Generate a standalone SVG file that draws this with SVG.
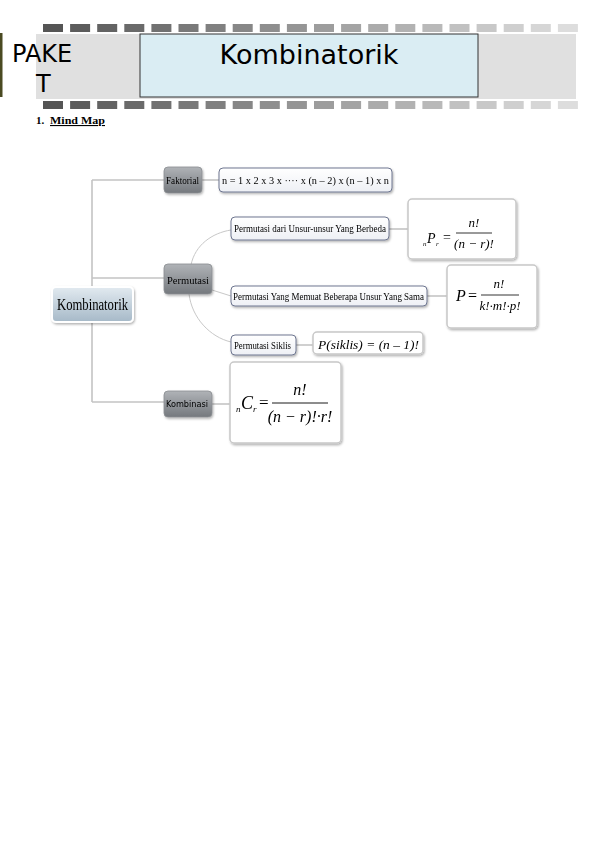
<svg xmlns="http://www.w3.org/2000/svg" width="595" height="842" viewBox="0 0 595 842">
<style>
.conn{fill:none;stroke:#c4c4c4;stroke-width:1.6}
.curve{fill:none;stroke:#c8c8c8;stroke-width:1}
.branch{fill:url(#gBranch);stroke:#8a8e92;stroke-width:0.8}
.sub{fill:url(#gSub);stroke:#6e7690;stroke-width:1}
.fbox{fill:#ffffff;stroke:#c8c8c8;stroke-width:1.5}
.bt{font-family:"Liberation Serif",serif;font-size:10.5px;fill:#000}
.st{font-family:"Liberation Serif",serif;font-size:9.5px;fill:#000}
.math{font-family:"Liberation Serif",serif;font-style:italic;fill:#000}
.mathr{font-family:"Liberation Serif",serif;fill:#000}
</style>
<defs>
<linearGradient id="gBranch" x1="0" y1="0" x2="0" y2="1">
<stop offset="0" stop-color="#b0b3b7"/>
<stop offset="1" stop-color="#75797e"/>
</linearGradient>
<linearGradient id="gMain" x1="0" y1="0" x2="0" y2="1">
<stop offset="0" stop-color="#e2eaf0"/>
<stop offset="1" stop-color="#a6b9c8"/>
</linearGradient>
<linearGradient id="gSub" x1="0" y1="0" x2="0" y2="1">
<stop offset="0" stop-color="#ffffff"/>
<stop offset="1" stop-color="#eef0f5"/>
</linearGradient>
<filter id="sh" x="-20%" y="-20%" width="140%" height="150%">
<feDropShadow dx="1" dy="1.5" stdDeviation="1.2" flood-color="#000" flood-opacity="0.3"/>
</filter>
</defs>

<g id="header">
<rect x="0" y="33" width="2.5" height="64" fill="#4a4a22"/>
<rect x="36" y="34" width="540" height="65" fill="#e0e0e0"/>
<g id="squares-top">
<rect x="43" y="24" width="20" height="8" fill="#555555"/>
<rect x="70.1" y="24" width="20" height="8" fill="#5c5c5c"/>
<rect x="97.2" y="24" width="20" height="8" fill="#636363"/>
<rect x="124.3" y="24" width="20" height="8" fill="#6a6a6a"/>
<rect x="151.4" y="24" width="20" height="8" fill="#717171"/>
<rect x="178.5" y="24" width="20" height="8" fill="#797979"/>
<rect x="205.6" y="24" width="20" height="8" fill="#808080"/>
<rect x="232.7" y="24" width="20" height="8" fill="#878787"/>
<rect x="259.8" y="24" width="20" height="8" fill="#8e8e8e"/>
<rect x="286.9" y="24" width="20" height="8" fill="#959595"/>
<rect x="314" y="24" width="20" height="8" fill="#9d9d9d"/>
<rect x="341.1" y="24" width="20" height="8" fill="#a4a4a4"/>
<rect x="368.2" y="24" width="20" height="8" fill="#ababab"/>
<rect x="395.3" y="24" width="20" height="8" fill="#b2b2b2"/>
<rect x="422.4" y="24" width="20" height="8" fill="#b9b9b9"/>
<rect x="449.5" y="24" width="20" height="8" fill="#c1c1c1"/>
<rect x="476.6" y="24" width="20" height="8" fill="#c8c8c8"/>
<rect x="503.7" y="24" width="20" height="8" fill="#cfcfcf"/>
<rect x="530.8" y="24" width="20" height="8" fill="#d6d6d6"/>
<rect x="557.9" y="24" width="20" height="8" fill="#dddddd"/>
</g>
<g id="squares-bottom">
<rect x="43" y="101" width="20" height="8" fill="#555555"/>
<rect x="70.1" y="101" width="20" height="8" fill="#5c5c5c"/>
<rect x="97.2" y="101" width="20" height="8" fill="#636363"/>
<rect x="124.3" y="101" width="20" height="8" fill="#6a6a6a"/>
<rect x="151.4" y="101" width="20" height="8" fill="#717171"/>
<rect x="178.5" y="101" width="20" height="8" fill="#797979"/>
<rect x="205.6" y="101" width="20" height="8" fill="#808080"/>
<rect x="232.7" y="101" width="20" height="8" fill="#878787"/>
<rect x="259.8" y="101" width="20" height="8" fill="#8e8e8e"/>
<rect x="286.9" y="101" width="20" height="8" fill="#959595"/>
<rect x="314" y="101" width="20" height="8" fill="#9d9d9d"/>
<rect x="341.1" y="101" width="20" height="8" fill="#a4a4a4"/>
<rect x="368.2" y="101" width="20" height="8" fill="#ababab"/>
<rect x="395.3" y="101" width="20" height="8" fill="#b2b2b2"/>
<rect x="422.4" y="101" width="20" height="8" fill="#b9b9b9"/>
<rect x="449.5" y="101" width="20" height="8" fill="#c1c1c1"/>
<rect x="476.6" y="101" width="20" height="8" fill="#c8c8c8"/>
<rect x="503.7" y="101" width="20" height="8" fill="#cfcfcf"/>
<rect x="530.8" y="101" width="20" height="8" fill="#d6d6d6"/>
<rect x="557.9" y="101" width="20" height="8" fill="#dddddd"/>
</g>
<text x="12" y="62" font-family="DejaVu Sans, sans-serif" font-size="24" fill="#000">PAKE</text>
<text x="36" y="92" font-family="DejaVu Sans, sans-serif" font-size="24" fill="#000">T</text>
<rect x="140" y="34" width="338" height="63" fill="#daedf3" stroke="#333" stroke-width="1"/>
<text x="309" y="64" text-anchor="middle" font-family="DejaVu Sans, sans-serif" font-size="27" fill="#000">Kombinatorik</text>
</g>

<g id="heading">
<text x="36" y="124" font-family="Liberation Serif, serif" font-size="11" font-weight="bold" fill="#000">1.</text>
<text x="50" y="124" font-family="Liberation Serif, serif" font-size="11" font-weight="bold" fill="#000" text-decoration="underline" textLength="55" lengthAdjust="spacingAndGlyphs">Mind Map</text>
</g>

<g id="connectors">
<path class="conn" d="M92 180 V402 M92 180 H164 M92 278 H164 M92 402 H164"/>
<path class="conn" d="M202 180 H219"/>
<path class="curve" d="M191 265 C195 245 212 233 231 230"/>
<path class="curve" d="M212 290 L231 296"/>
<path class="curve" d="M189 294 C192 318 210 337 231 342"/>
<path class="conn" d="M389 229 H408"/>
<path class="conn" d="M427 296 H447"/>
<path class="conn" d="M296 345 H313"/>
<path class="conn" d="M212 404 H230"/>
</g>

<g id="node-main" filter="url(#sh)">
<rect x="52" y="287" width="81" height="35" rx="4" fill="url(#gMain)" stroke="#ffffff" stroke-width="2"/>
<text x="57" y="310" font-family="Liberation Serif, serif" font-size="16" textLength="71" lengthAdjust="spacingAndGlyphs" fill="#000">Kombinatorik</text>
</g>

<g id="node-faktorial" filter="url(#sh)">
<rect class="branch" x="164" y="167" width="38" height="26" rx="4"/>
<text class="bt" x="166" y="184" textLength="33" lengthAdjust="spacingAndGlyphs">Faktorial</text>
</g>

<g id="node-faktorial-formula" filter="url(#sh)">
<rect class="sub" x="219" y="168" width="173" height="24" rx="4"/>
<text class="st" x="222" y="184" textLength="167" lengthAdjust="spacingAndGlyphs">n = 1 x 2 x 3 x ···· x (n – 2) x (n – 1) x n</text>
</g>

<g id="node-permutasi" filter="url(#sh)">
<rect class="branch" x="164" y="264" width="48" height="30" rx="4"/>
<text class="bt" x="167" y="284" textLength="42" lengthAdjust="spacingAndGlyphs">Permutasi</text>
</g>

<g id="node-perm1" filter="url(#sh)">
<rect class="sub" x="231" y="217" width="158" height="23" rx="4"/>
<text class="st" x="234" y="232" textLength="152" lengthAdjust="spacingAndGlyphs">Permutasi dari Unsur-unsur Yang Berbeda</text>
</g>

<g id="node-perm1-formula" filter="url(#sh)">
<rect class="fbox" x="408" y="199" width="108" height="60" rx="4"/>
<text class="math" x="423" y="246" font-size="7">n</text>
<text class="math" x="427" y="243" font-size="14">P</text>
<text class="math" x="436" y="246" font-size="7">r</text>
<text class="mathr" x="443" y="242" font-size="14">=</text>
<line x1="456" y1="233" x2="492" y2="233" stroke="#000" stroke-width="0.8"/>
<text class="math" x="474" y="227" font-size="13" text-anchor="middle">n!</text>
<text class="math" x="474" y="248" font-size="13" text-anchor="middle">(n − r)!</text>
</g>

<g id="node-perm2" filter="url(#sh)">
<rect class="sub" x="231" y="286" width="196" height="20" rx="4"/>
<text class="st" x="233" y="300" textLength="191" lengthAdjust="spacingAndGlyphs">Permutasi Yang Memuat Beberapa Unsur Yang Sama</text>
</g>

<g id="node-perm2-formula" filter="url(#sh)">
<rect class="fbox" x="447" y="265" width="90" height="63" rx="4"/>
<text class="math" x="456" y="301" font-size="16">P</text>
<text class="mathr" x="468" y="301" font-size="16">=</text>
<line x1="481" y1="295" x2="519" y2="295" stroke="#000" stroke-width="0.8"/>
<text class="math" x="499" y="288" font-size="13" text-anchor="middle">n!</text>
<text class="math" x="500" y="310" font-size="13" text-anchor="middle">k!·m!·p!</text>
</g>

<g id="node-perm3" filter="url(#sh)">
<rect class="sub" x="231" y="335" width="65" height="20" rx="4"/>
<text class="st" x="234" y="349" textLength="57" lengthAdjust="spacingAndGlyphs">Permutasi Siklis</text>
</g>

<g id="node-perm3-formula" filter="url(#sh)">
<rect class="fbox" x="313" y="332" width="110" height="22" rx="4"/>
<text class="math" x="318" y="349" font-size="13" textLength="101" lengthAdjust="spacingAndGlyphs">P(siklis) = (n – 1)!</text>
</g>

<g id="node-kombinasi" filter="url(#sh)">
<rect class="branch" x="164" y="391" width="48" height="26" rx="4"/>
<text x="166" y="407" font-family="DejaVu Sans, sans-serif" font-size="8" textLength="42" lengthAdjust="spacingAndGlyphs" fill="#000">Kombinasi</text>
</g>

<g id="node-kombinasi-formula" filter="url(#sh)">
<rect class="fbox" x="230" y="362" width="111" height="81" rx="4"/>
<text class="math" x="236" y="412" font-size="9">n</text>
<text class="math" x="241" y="409" font-size="18">C</text>
<text class="math" x="253" y="412" font-size="9">r</text>
<text class="mathr" x="259" y="408" font-size="17">=</text>
<line x1="272" y1="403" x2="328" y2="403" stroke="#000" stroke-width="0.9"/>
<text class="math" x="300" y="395" font-size="16" text-anchor="middle">n!</text>
<text class="math" x="300" y="422" font-size="16" text-anchor="middle">(n − r)!·r!</text>
</g>
</svg>
